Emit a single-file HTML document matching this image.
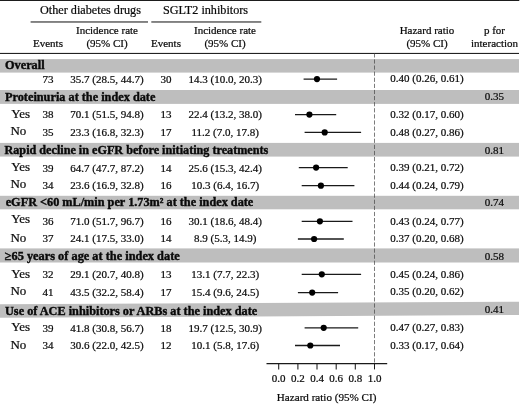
<!DOCTYPE html>
<html><head><meta charset="utf-8"><title>Forest plot</title>
<style>
html,body{margin:0;padding:0;background:#fff;}
svg{display:block;}
text{font-family:"Liberation Serif","DejaVu Serif",serif;fill:#0a0a0a;stroke:#0a0a0a;stroke-width:0.22px;}
.h1{font-size:12.2px;}
.s{font-size:11px;}
.l{font-size:13px;}
.b{font-size:12.3px;font-weight:bold;stroke-width:0.4px;}
</style></head><body>
<svg width="520" height="404" viewBox="0 0 520 404">
<rect x="0" y="0" width="520" height="404" fill="#fff"/>
<rect x="0" y="0" width="519.3" height="0.95" fill="#111"/>
<rect x="30.6" y="21.45" width="117.4" height="1.05" fill="#1a1a1a"/>
<rect x="151.3" y="21.45" width="110" height="1.05" fill="#1a1a1a"/>
<rect x="0" y="52.9" width="519" height="1.1" fill="#222"/>
<text x="90.5" y="13.6" class="h1" text-anchor="middle">Other diabetes drugs</text>
<text x="205.5" y="13.6" class="h1" text-anchor="middle">SGLT2 inhibitors</text>
<text x="48" y="47.15" class="s" text-anchor="middle">Events</text>
<text x="107" y="34.4" class="s" text-anchor="middle">Incidence rate</text>
<text x="107" y="47.15" class="s" text-anchor="middle">(95% CI)</text>
<text x="166" y="47.15" class="s" text-anchor="middle">Events</text>
<text x="225" y="34.4" class="s" text-anchor="middle">Incidence rate</text>
<text x="225" y="47.15" class="s" text-anchor="middle">(95% CI)</text>
<text x="427" y="34.4" class="s" text-anchor="middle">Hazard ratio</text>
<text x="427" y="47.15" class="s" text-anchor="middle">(95% CI)</text>
<text x="494.5" y="34.4" class="s" text-anchor="middle">p for</text>
<text x="494.5" y="47.15" class="s" text-anchor="middle">interaction</text>
<rect x="0" y="59.1" width="519" height="13.5" fill="#bebebe"/>
<text x="5" y="69.1" class="b" text-anchor="start" textLength="39.6" lengthAdjust="spacingAndGlyphs">Overall</text>
<rect x="0" y="90.0" width="519" height="13.9" fill="#bebebe"/>
<text x="5" y="100.7" class="b" text-anchor="start" textLength="150.4" lengthAdjust="spacingAndGlyphs">Proteinuria at the index date</text>
<text x="494.3" y="100.2" class="s" text-anchor="middle">0.35</text>
<rect x="0" y="142.9" width="519" height="13.7" fill="#bebebe"/>
<text x="4.5" y="153.7" class="b" text-anchor="start" textLength="263.8" lengthAdjust="spacingAndGlyphs">Rapid decline in eGFR before initiating treatments</text>
<text x="494.3" y="154.2" class="s" text-anchor="middle">0.81</text>
<rect x="0" y="195.8" width="519" height="13.5" fill="#bebebe"/>
<text x="5.7" y="206.4" class="b" text-anchor="start" textLength="247.6" lengthAdjust="spacingAndGlyphs">eGFR &lt;60 mL/min per 1.73m² at the index date</text>
<text x="494.3" y="206.4" class="s" text-anchor="middle">0.74</text>
<rect x="0" y="248.4" width="519" height="14.1" fill="#bebebe"/>
<text x="4.75" y="259.5" class="b" text-anchor="start" textLength="175" lengthAdjust="spacingAndGlyphs">≥65 years of age at the index date</text>
<text x="494.3" y="259.8" class="s" text-anchor="middle">0.58</text>
<polygon points="0,304.2 519,301.7 519,315.0 0,317.8" fill="#bebebe"/>
<text x="5" y="315.3" class="b" text-anchor="start" textLength="252.2" lengthAdjust="spacingAndGlyphs">Use of ACE inhibitors or ARBs at the index date</text>
<text x="494.3" y="312.7" class="s" text-anchor="middle">0.41</text>
<line x1="374.5" y1="53.3" x2="374.5" y2="364" stroke="#444" stroke-width="0.7" stroke-dasharray="4.2,1.9"/>
<text x="48" y="83.1" class="s" text-anchor="middle">73</text>
<text x="107" y="83.1" class="s" text-anchor="middle">35.7 (28.5, 44.7)</text>
<text x="166" y="83.1" class="s" text-anchor="middle">30</text>
<text x="225.2" y="83.1" class="s" text-anchor="middle">14.3 (10.0, 20.3)</text>
<text x="427" y="82.4" class="s" text-anchor="middle">0.40 (0.26, 0.61)</text>
<line x1="303.6" y1="79.1" x2="337.1" y2="79.1" stroke="#1a1a1a" stroke-width="1.3"/>
<circle cx="317.0" cy="79.1" r="3.1" fill="#000"/>
<text x="11.2" y="117.5" class="l" text-anchor="start">Yes</text>
<text x="48" y="118.3" class="s" text-anchor="middle">38</text>
<text x="107" y="118.3" class="s" text-anchor="middle">70.1 (51.5, 94.8)</text>
<text x="166" y="118.3" class="s" text-anchor="middle">13</text>
<text x="225.2" y="118.3" class="s" text-anchor="middle">22.4 (13.2, 38.0)</text>
<text x="427" y="118" class="s" text-anchor="middle">0.32 (0.17, 0.60)</text>
<line x1="295.0" y1="114.6" x2="336.2" y2="114.6" stroke="#1a1a1a" stroke-width="1.3"/>
<circle cx="309.4" cy="114.6" r="3.1" fill="#000"/>
<text x="10.4" y="135" class="l" text-anchor="start">No</text>
<text x="48" y="136.3" class="s" text-anchor="middle">35</text>
<text x="107" y="136.3" class="s" text-anchor="middle">23.3 (16.8, 32.3)</text>
<text x="166" y="136.3" class="s" text-anchor="middle">17</text>
<text x="225.2" y="136.3" class="s" text-anchor="middle">11.2 (7.0, 17.8)</text>
<text x="427" y="136.3" class="s" text-anchor="middle">0.48 (0.27, 0.86)</text>
<line x1="304.6" y1="132.4" x2="361.1" y2="132.4" stroke="#1a1a1a" stroke-width="1.3"/>
<circle cx="324.7" cy="132.4" r="3.1" fill="#000"/>
<text x="11.2" y="170.8" class="l" text-anchor="start">Yes</text>
<text x="48" y="171.5" class="s" text-anchor="middle">39</text>
<text x="107" y="171.5" class="s" text-anchor="middle">64.7 (47.7, 87.2)</text>
<text x="166" y="171.5" class="s" text-anchor="middle">14</text>
<text x="225.2" y="171.5" class="s" text-anchor="middle">25.6 (15.3, 42.4)</text>
<text x="427" y="171.3" class="s" text-anchor="middle">0.39 (0.21, 0.72)</text>
<line x1="298.8" y1="167.6" x2="347.7" y2="167.6" stroke="#1a1a1a" stroke-width="1.3"/>
<circle cx="316.1" cy="167.6" r="3.1" fill="#000"/>
<text x="10.4" y="188" class="l" text-anchor="start">No</text>
<text x="48" y="189.0" class="s" text-anchor="middle">34</text>
<text x="107" y="189.0" class="s" text-anchor="middle">23.6 (16.9, 32.8)</text>
<text x="166" y="189.0" class="s" text-anchor="middle">16</text>
<text x="225.2" y="189.0" class="s" text-anchor="middle">10.3 (6.4, 16.7)</text>
<text x="427" y="188.8" class="s" text-anchor="middle">0.44 (0.24, 0.79)</text>
<line x1="301.7" y1="185.7" x2="354.4" y2="185.7" stroke="#1a1a1a" stroke-width="1.3"/>
<circle cx="320.9" cy="185.7" r="3.1" fill="#000"/>
<text x="11.2" y="222.8" class="l" text-anchor="start">Yes</text>
<text x="48" y="224.8" class="s" text-anchor="middle">36</text>
<text x="107" y="224.8" class="s" text-anchor="middle">71.0 (51.7, 96.7)</text>
<text x="166" y="224.8" class="s" text-anchor="middle">16</text>
<text x="225.2" y="224.8" class="s" text-anchor="middle">30.1 (18.6, 48.4)</text>
<text x="427" y="224.6" class="s" text-anchor="middle">0.43 (0.24, 0.77)</text>
<line x1="301.7" y1="221.3" x2="352.5" y2="221.3" stroke="#1a1a1a" stroke-width="1.3"/>
<circle cx="319.9" cy="221.3" r="3.1" fill="#000"/>
<text x="10.4" y="241.8" class="l" text-anchor="start">No</text>
<text x="48" y="242.2" class="s" text-anchor="middle">37</text>
<text x="107" y="242.2" class="s" text-anchor="middle">24.1 (17.5, 33.0)</text>
<text x="166" y="242.2" class="s" text-anchor="middle">14</text>
<text x="225.2" y="242.2" class="s" text-anchor="middle">8.9 (5.3, 14.9)</text>
<text x="427" y="242.0" class="s" text-anchor="middle">0.37 (0.20, 0.68)</text>
<line x1="297.9" y1="239.0" x2="343.8" y2="239.0" stroke="#1a1a1a" stroke-width="1.3"/>
<circle cx="314.1" cy="239.0" r="3.1" fill="#000"/>
<text x="11.2" y="278.1" class="l" text-anchor="start">Yes</text>
<text x="48" y="277.7" class="s" text-anchor="middle">32</text>
<text x="107" y="277.7" class="s" text-anchor="middle">29.1 (20.7, 40.8)</text>
<text x="166" y="277.7" class="s" text-anchor="middle">13</text>
<text x="225.2" y="277.7" class="s" text-anchor="middle">13.1 (7.7, 22.3)</text>
<text x="427" y="278.0" class="s" text-anchor="middle">0.45 (0.24, 0.86)</text>
<line x1="301.7" y1="274.3" x2="361.1" y2="274.3" stroke="#1a1a1a" stroke-width="1.3"/>
<circle cx="321.8" cy="274.3" r="3.1" fill="#000"/>
<text x="10.4" y="294.5" class="l" text-anchor="start">No</text>
<text x="48" y="296.4" class="s" text-anchor="middle">41</text>
<text x="107" y="296.4" class="s" text-anchor="middle">43.5 (32.2, 58.4)</text>
<text x="166" y="296.4" class="s" text-anchor="middle">17</text>
<text x="225.2" y="296.4" class="s" text-anchor="middle">15.4 (9.6, 24.5)</text>
<text x="427" y="295.4" class="s" text-anchor="middle">0.35 (0.20, 0.62)</text>
<line x1="297.9" y1="292.6" x2="338.1" y2="292.6" stroke="#1a1a1a" stroke-width="1.3"/>
<circle cx="312.2" cy="292.6" r="3.1" fill="#000"/>
<text x="11.2" y="330.5" class="l" text-anchor="start">Yes</text>
<text x="48" y="331.5" class="s" text-anchor="middle">39</text>
<text x="107" y="331.5" class="s" text-anchor="middle">41.8 (30.8, 56.7)</text>
<text x="166" y="331.5" class="s" text-anchor="middle">18</text>
<text x="225.2" y="331.5" class="s" text-anchor="middle">19.7 (12.5, 30.9)</text>
<text x="427" y="331" class="s" text-anchor="middle">0.47 (0.27, 0.83)</text>
<line x1="304.6" y1="327.8" x2="358.2" y2="327.8" stroke="#1a1a1a" stroke-width="1.3"/>
<circle cx="323.7" cy="327.8" r="3.1" fill="#000"/>
<text x="10.4" y="349" class="l" text-anchor="start">No</text>
<text x="48" y="348.9" class="s" text-anchor="middle">34</text>
<text x="107" y="348.9" class="s" text-anchor="middle">30.6 (22.0, 42.5)</text>
<text x="166" y="348.9" class="s" text-anchor="middle">12</text>
<text x="225.2" y="348.9" class="s" text-anchor="middle">10.1 (5.8, 17.6)</text>
<text x="427" y="348.7" class="s" text-anchor="middle">0.33 (0.17, 0.64)</text>
<line x1="295.0" y1="345.5" x2="340.0" y2="345.5" stroke="#1a1a1a" stroke-width="1.3"/>
<circle cx="310.3" cy="345.5" r="3.1" fill="#000"/>
<line x1="266.5" y1="363.6" x2="387.2" y2="363.6" stroke="#1a1a1a" stroke-width="1.05"/>
<line x1="278.7" y1="363.6" x2="278.7" y2="369.4" stroke="#1a1a1a" stroke-width="1.05"/>
<text x="278.7" y="381.6" class="s" text-anchor="middle">0.0</text>
<line x1="297.9" y1="363.6" x2="297.9" y2="369.4" stroke="#1a1a1a" stroke-width="1.05"/>
<text x="297.9" y="381.6" class="s" text-anchor="middle">0.2</text>
<line x1="317.0" y1="363.6" x2="317.0" y2="369.4" stroke="#1a1a1a" stroke-width="1.05"/>
<text x="317.0" y="381.6" class="s" text-anchor="middle">0.4</text>
<line x1="336.2" y1="363.6" x2="336.2" y2="369.4" stroke="#1a1a1a" stroke-width="1.05"/>
<text x="336.2" y="381.6" class="s" text-anchor="middle">0.6</text>
<line x1="355.3" y1="363.6" x2="355.3" y2="369.4" stroke="#1a1a1a" stroke-width="1.05"/>
<text x="355.3" y="381.6" class="s" text-anchor="middle">0.8</text>
<line x1="374.5" y1="363.6" x2="374.5" y2="369.4" stroke="#1a1a1a" stroke-width="1.05"/>
<text x="374.5" y="381.6" class="s" text-anchor="middle">1.0</text>
<text x="326.6" y="401" class="s" text-anchor="middle" textLength="99.5" lengthAdjust="spacingAndGlyphs">Hazard ratio (95% CI)</text>
</svg>
</body></html>
